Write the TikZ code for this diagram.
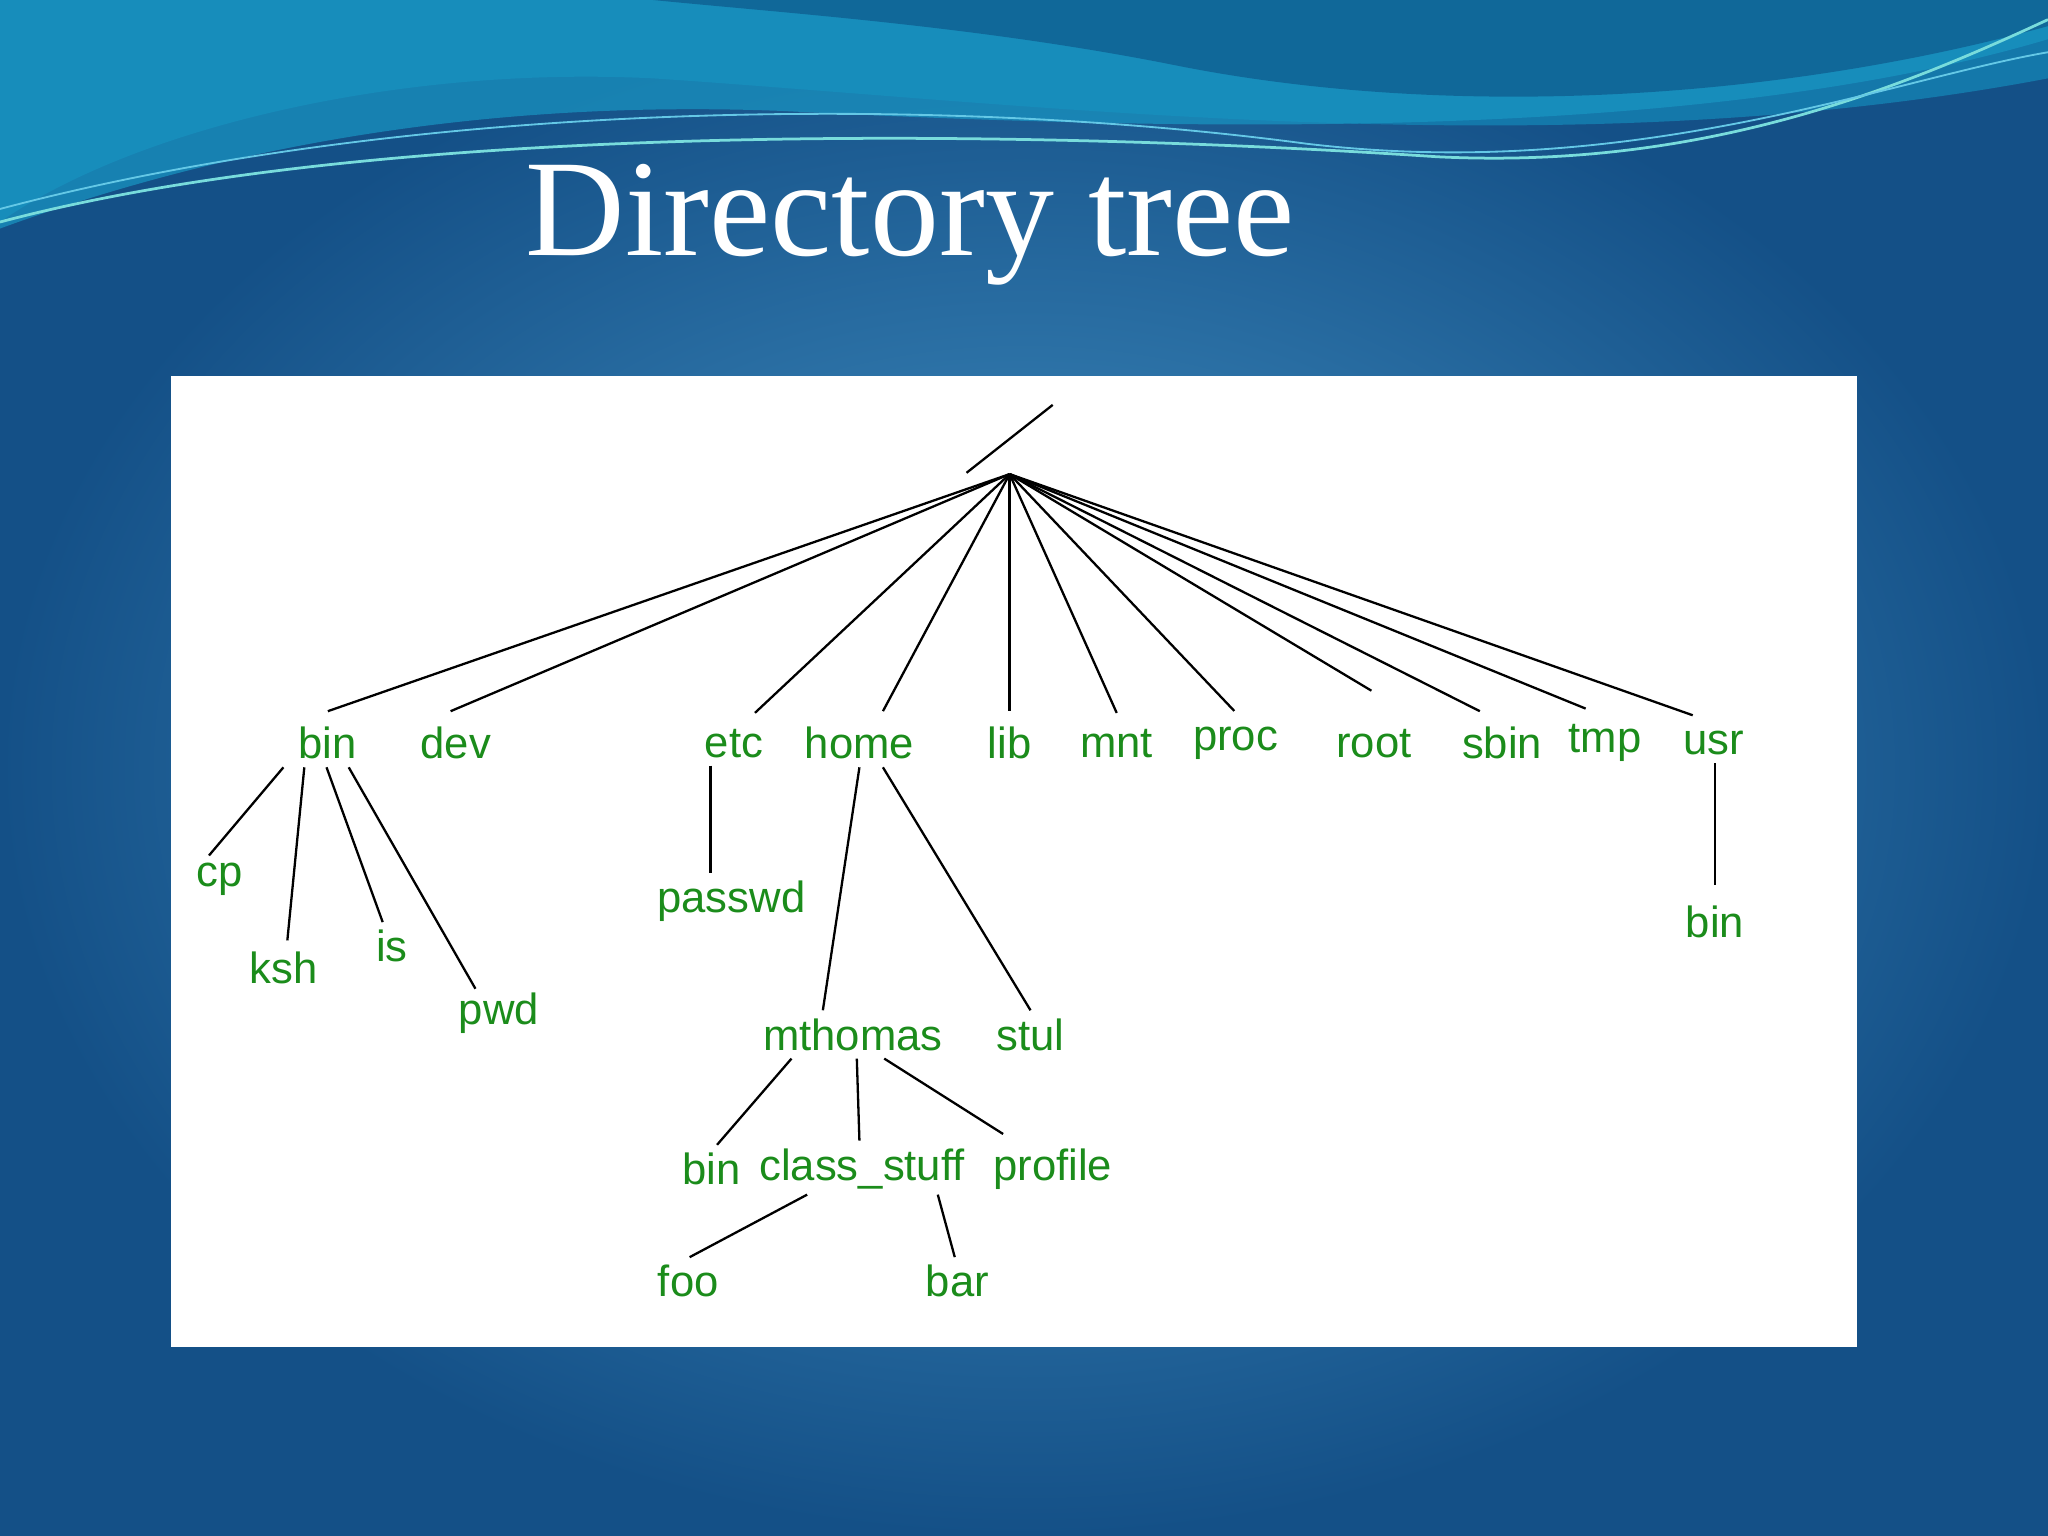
\documentclass[tikz,border=0pt]{standalone}
\usepackage{fontspec}
\setmainfont{Liberation Sans}
\newfontfamily\titlefont{Liberation Serif}
\usetikzlibrary{calc}
\definecolor{dirgreen}{HTML}{1B8C1B}
\definecolor{bgin}{RGB}{70,150,200}
\definecolor{bgout}{RGB}{20,80,135}
\definecolor{waveA}{RGB}{20,120,170}
\definecolor{waveB}{RGB}{25,150,195}
\definecolor{waveC}{RGB}{15,95,145}
\definecolor{lineA}{RGB}{120,220,220}
\definecolor{lineB}{RGB}{100,200,230}
\begin{document}
\begin{tikzpicture}[x={(0.01cm,0)},y={(0,-0.01cm)},
  lbl/.style={text=dirgreen,font=\fontsize{9.5pt}{10pt}\selectfont,inner sep=1pt},
  edge/.style={draw=black,line width=0.5pt}]
\useasboundingbox (0,0) rectangle (1568,1176);
\fill[inner color=bgin,outer color=bgout] (0,0) rectangle (1568,1176);
% top waves
\fill[waveA] (0,0) -- (1568,0) -- (1568,60) .. controls (1200,130) and (800,80) .. (500,60) .. controls (300,50) and (100,100) .. (0,170) -- cycle;
\fill[waveB,opacity=0.7] (0,0) -- (1568,0) -- (1568,30) .. controls (1300,110) and (900,100) .. (600,85) .. controls (350,75) and (150,120) .. (0,175) -- cycle;
\fill[waveC,opacity=0.8] (500,0) -- (1568,0) -- (1568,20) .. controls (1350,80) and (1100,90) .. (900,50) .. controls (750,20) and (600,10) .. (500,0) -- cycle;
\draw[lineA,line width=0.6pt] (0,170) .. controls (300,90) and (800,100) .. (1100,120) .. controls (1300,130) and (1450,70) .. (1568,15);
\draw[lineB,line width=0.4pt] (0,160) .. controls (300,80) and (700,70) .. (1000,110) .. controls (1250,140) and (1450,60) .. (1568,40);
\node[text=white,font=\titlefont\fontsize{30pt}{32pt}\selectfont] (title) at (697,172) {Directory tree};
\fill[white] (131,288) rectangle (1422,1031);
% root
\coordinate (root) at (773,363);
\coordinate (slA) at (740,362);
\coordinate (slB) at (806,310);
\draw[edge] (slA) -- (slB);
\foreach \n/\t/\x in {bin/bin/251,dev/dev/349,etc/etc/562,home/home/658,lib/lib/773,mnt/mnt/855,proc/proc/946,rootd/root/1052,sbin/sbin/1150,tmp/tmp/1229,usr/usr/1312}{
  \node[lbl] (\n) at (\x,569) {\t};
}
\draw[edge] (root) -- ($(bin.north)+(0,-8)$);
\draw[edge] (root) -- ($(dev.north)+(-4,-8)$);
\draw[edge] (root) -- ($(etc.north)+(16,-8)$);
\draw[edge] (root) -- ($(home.north)+(18,-8)$);
\draw[edge] (root) -- ($(lib.north)+(0,-8)$);
\draw[edge] (root) -- ($(mnt.north)+(0,-8)$);
\draw[edge] (root) -- ($(proc.north)+(-1,-8)$);
\draw[edge] (root) -- ($(rootd.north)+(-2,-25)$);
\draw[edge] (root) -- ($(sbin.north)+(-17,-8)$);
\draw[edge] (root) -- ($(tmp.north)+(-15,-8)$);
\draw[edge] (root) -- ($(usr.north)+(-16,-8)$);
% bin children
\node[lbl] (cp) at (168,673) {cp};
\node[lbl] (ksh) at (217,741) {ksh};
\node[lbl] (is) at (300,724) {is};
\node[lbl] (pwd) at (382,776) {pwd};
\draw[edge] ($(bin.south)+(-34,2)$) -- (160,655);
\draw[edge] ($(bin.south)+(-18,2)$) -- (220,720);
\draw[edge] ($(bin.south)+(-1,2)$) -- (293,706);
\draw[edge] ($(bin.south)+(16,2)$) -- (364,757);
\node[lbl] (passwd) at (560,690) {passwd};
\draw[edge] ($(etc.south)+(-18,2)$) -- ($(passwd.north)+(-16,-2)$);
\node[lbl] (mthomas) at (653,792) {mthomas};
\node[lbl] (stul) at (789,792) {stul};
\draw[edge] ($(home.south)+(0,2)$) -- ($(mthomas.north)+(-23,-2)$);
\draw[edge] ($(home.south)+(18,2)$) -- ($(stul.north)+(0,-2)$);
\node[lbl] (usrbin) at (1313,706) {bin};
\draw[edge] ($(usr.south)+(1,2)$) -- ($(usrbin.north)+(0,-12)$);
\node[lbl] (mbin) at (545,895) {bin};
\node[lbl] (cls) at (660,895) {class\_stuff};
\node[lbl] (profile) at (806,895) {profile};
\draw[edge] ($(mthomas.south)+(-47,2)$) -- ($(mbin.north)+(4,-2)$);
\draw[edge] ($(mthomas.south)+(3,2)$) -- ($(cls.north)+(-2,-2)$);
\draw[edge] ($(mthomas.south)+(24,2)$) -- ($(profile.north)+(-38,-7)$);
\node[lbl] (foo) at (527,981) {foo};
\node[lbl] (bar) at (733,981) {bar};
\draw[edge] ($(cls.south)+(-42,0)$) -- ($(foo.north)+(1,-2)$);
\draw[edge] ($(cls.south)+(58,0)$) -- ($(bar.north)+(-2,-2)$);
\end{tikzpicture}
\end{document}
